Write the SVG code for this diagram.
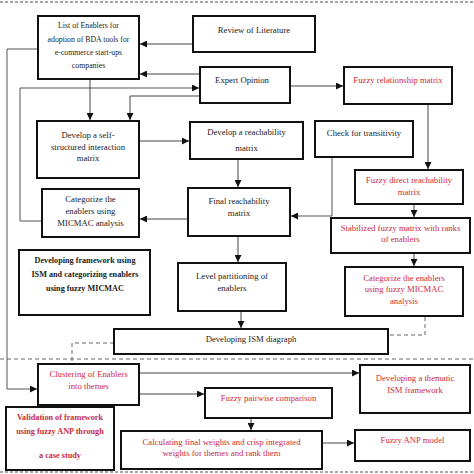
<svg xmlns="http://www.w3.org/2000/svg" width="474" height="474" viewBox="0 0 474 474">
<style>
.box{fill:#fff;stroke:#111;stroke-width:2}
.t{font-family:"Liberation Serif",serif;font-size:8.7px;text-anchor:middle;fill:#222}
.s{font-size:7.8px}
.r{fill:#cc2b3b}
.b{font-weight:bold;font-size:8.2px}
.c{stroke:#444;stroke-width:1;fill:none}
.g{stroke:#555;stroke-width:1;fill:none}
.d{stroke:#666;stroke-width:1;fill:none;stroke-dasharray:4 3}
.dt{stroke:#888;stroke-width:1.5;fill:none;stroke-dasharray:3 2}
</style>
<defs>
<marker id="ah" viewBox="0 0 10 10" refX="10" refY="5" markerWidth="7" markerHeight="7" markerUnits="userSpaceOnUse" orient="auto">
<path d="M0,0 L10,5 L0,10 z" fill="#111"/>
</marker>
</defs>
<rect width="474" height="474" fill="#fff"/>
<g id="separators">
<line class="dt" x1="0" y1="2" x2="474" y2="2"/>
<line class="d" x1="0" y1="359" x2="474" y2="359"/>
<line class="dt" x1="0" y1="472" x2="474" y2="472"/>
</g>
<g id="connectors">
<path class="c" d="M193,44 H140" marker-end="url(#ah)"/>
<path class="c" d="M200,74 H140" marker-end="url(#ah)"/>
<path class="g" d="M42,221 H20 V88 H199" marker-end="url(#ah)"/>
<path class="g" d="M42,49 H7 V389 H37" marker-end="url(#ah)"/>
<path class="c" d="M90,80 V120" marker-end="url(#ah)"/>
<path class="c" d="M200,96 H130 V120" marker-end="url(#ah)"/>
<path class="c" d="M290,86 H343" marker-end="url(#ah)"/>
<path class="c" d="M140,141 H189" marker-end="url(#ah)"/>
<path class="c" d="M238,160 V187" marker-end="url(#ah)"/>
<path class="g" d="M332,158 V216 H291" marker-end="url(#ah)"/>
<path class="c" d="M188,219 H140" marker-end="url(#ah)"/>
<path class="c" d="M238,237 V262" marker-end="url(#ah)"/>
<path class="c" d="M241,312 V328" marker-end="url(#ah)"/>
<path class="c" d="M428,105 V169" marker-end="url(#ah)"/>
<path class="c" d="M414,205 V217" marker-end="url(#ah)"/>
<path class="c" d="M414,254 V266" marker-end="url(#ah)"/>
<path class="d" d="M425,317 V335 H389"/>
<path class="d" d="M114,343 H72 V364"/>
<path class="c" d="M139,373 H359" marker-end="url(#ah)"/>
<path class="c" d="M139,394 H204" marker-end="url(#ah)"/>
<path class="c" d="M251,419 V430" marker-end="url(#ah)"/>
<path class="c" d="M322,443 H354" marker-end="url(#ah)"/>
</g>
<g id="n-list"><rect class="box" x="38" y="16" width="101" height="63"/>
<text class="t s" x="88.5" y="28">List of Enablers for</text>
<text class="t s" x="88.5" y="42">adoption of BDA tools for</text>
<text class="t s" x="88.5" y="55">e-commerce start-ups</text>
<text class="t s" x="88.5" y="68">companies</text></g>
<g id="n-review"><rect class="box" x="193" y="16" width="122" height="36"/>
<text class="t" x="254" y="32.5">Review of Literature</text></g>
<g id="n-expert"><rect class="box" x="200" y="67" width="90" height="36"/>
<text class="t" x="242" y="82.5">Expert Opinion</text></g>
<g id="n-fuzzyrel"><rect class="box" x="344" y="67" width="108" height="37"/>
<text class="t r" x="398" y="82.5">Fuzzy relationship matrix</text></g>
<g id="n-ssim"><rect class="box" x="37" y="121" width="102" height="57"/>
<text class="t" x="88" y="138">Develop a self-</text>
<text class="t" x="88" y="149.5">structured interaction</text>
<text class="t" x="88" y="161">matrix</text></g>
<g id="n-reach"><rect class="box" x="190" y="122" width="113" height="37"/>
<text class="t" x="246.5" y="135">Develop a reachability</text>
<text class="t" x="246.5" y="151">matrix</text></g>
<g id="n-check"><rect class="box" x="315" y="121" width="98" height="36"/>
<text class="t" x="364" y="136">Check for transitivity</text></g>
<g id="n-final"><rect class="box" x="188" y="188" width="102" height="48"/>
<text class="t" x="239" y="204">Final reachability</text>
<text class="t" x="239" y="216">matrix</text></g>
<g id="n-micmac"><rect class="box" x="42" y="189" width="97" height="48"/>
<text class="t" x="90.5" y="202">Categorize the</text>
<text class="t" x="90.5" y="214">enablers using</text>
<text class="t" x="90.5" y="226">MICMAC analysis</text></g>
<g id="n-label1"><rect class="box" x="19" y="250" width="131" height="65"/>
<text class="t b" x="85" y="263">Developing framework using</text>
<text class="t b" x="85" y="277">ISM and categorizing enablers</text>
<text class="t b" x="85" y="291">using fuzzy MICMAC</text></g>
<g id="n-level"><rect class="box" x="178" y="263" width="108" height="48"/>
<text class="t" x="232" y="279">Level partitioning of</text>
<text class="t" x="232" y="291">enablers</text></g>
<g id="n-fdirect"><rect class="box" x="355" y="170" width="108" height="34"/>
<text class="t r" x="409" y="183">Fuzzy direct reachability</text>
<text class="t r" x="409" y="195">matrix</text></g>
<g id="n-stab"><rect class="box" x="331" y="218" width="139" height="35"/>
<text class="t r" x="400.5" y="231">Stabilized fuzzy matrix with ranks</text>
<text class="t r" x="400.5" y="242">of enablers</text></g>
<g id="n-fmicmac"><rect class="box" x="345" y="267" width="118" height="49"/>
<text class="t r" x="404" y="281">Categorize the enablers</text>
<text class="t r" x="404" y="292">using fuzzy MICMAC</text>
<text class="t r" x="404" y="304">analysis</text></g>
<g id="n-ism"><rect class="box" x="114" y="329" width="274" height="25"/>
<text class="t" x="251" y="342">Developing ISM diagraph</text></g>
<g id="n-cluster"><rect class="box" x="38" y="364" width="101" height="41"/>
<text class="t r" x="88.5" y="377">Clustering of Enablers</text>
<text class="t r" x="88.5" y="389">into themes</text></g>
<g id="n-thematic"><rect class="box" x="360" y="365" width="110" height="48"/>
<text class="t r" x="415" y="381">Developing a thematic</text>
<text class="t r" x="415" y="393">ISM framework</text></g>
<g id="n-pairwise"><rect class="box" x="205" y="388" width="127" height="30"/>
<text class="t r" x="268.5" y="401">Fuzzy pairwise comparison</text></g>
<g id="n-label2"><rect class="box" x="6" y="407" width="108" height="63"/>
<text class="t b r" x="60" y="420">Validation of framework</text>
<text class="t b r" x="60" y="434">using fuzzy ANP through</text>
<text class="t b r" x="60" y="458">a case study</text></g>
<g id="n-calc"><rect class="box" x="121" y="431" width="201" height="38"/>
<text class="t r" x="221.5" y="445">Calculating final weights and crisp integrated</text>
<text class="t r" x="221.5" y="456">weights for themes and rank them</text></g>
<g id="n-anp"><rect class="box" x="355" y="430" width="115" height="31"/>
<text class="t r" x="412.5" y="443">Fuzzy ANP model</text></g>
</svg>
